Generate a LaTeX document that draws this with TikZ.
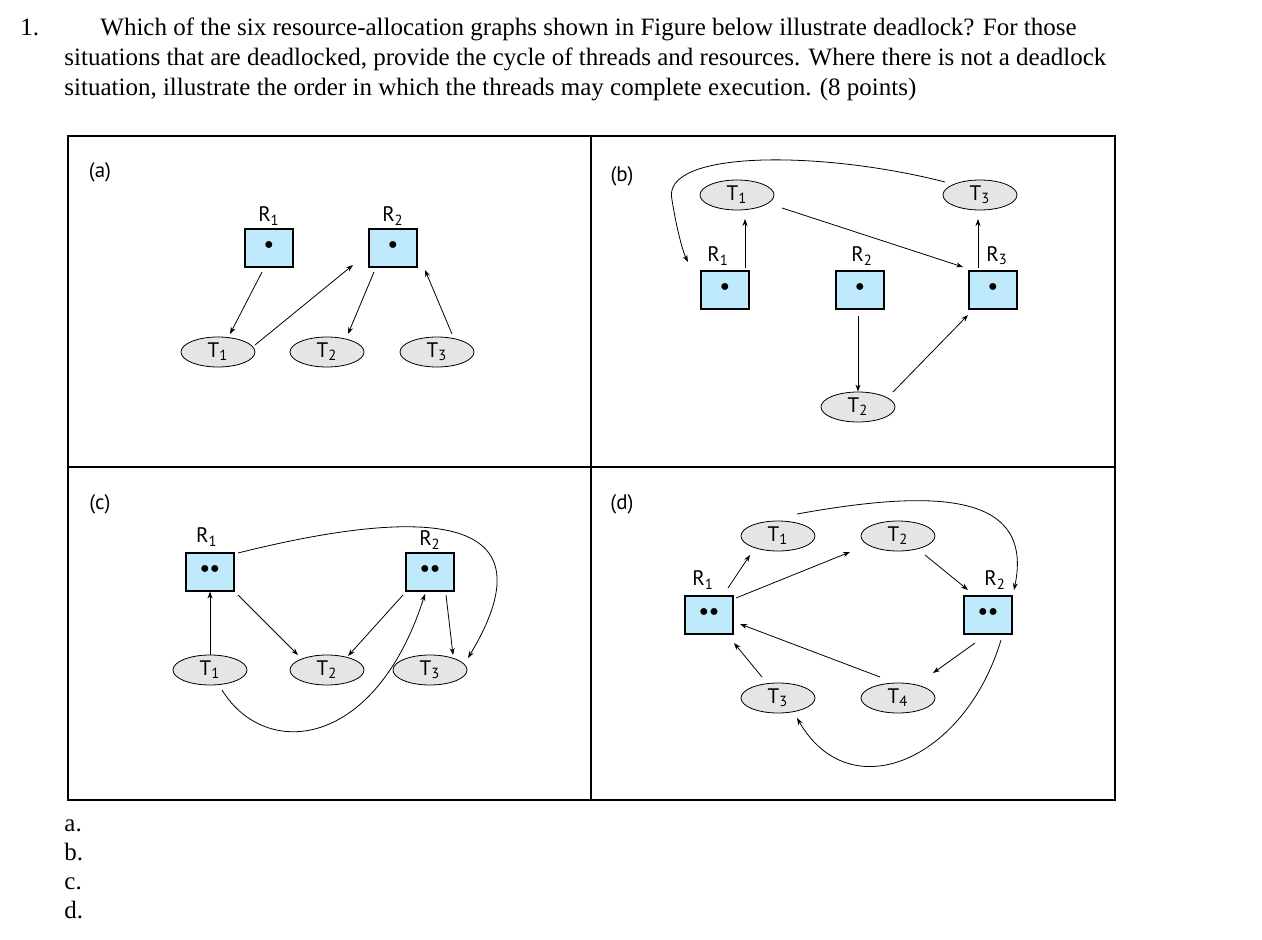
\documentclass[tikz,border=0pt]{standalone}
\usepackage{fontspec}
\setmainfont{Liberation Serif}
\newfontfamily\dsans{PT Sans}
\usetikzlibrary{arrows.meta,shapes.geometric}
\begin{document}
\begin{tikzpicture}[x=0.5pt,y=-0.5pt,
 res/.style={draw,fill=cyan!25,minimum width=24pt,minimum height=19pt,inner sep=0pt,line width=0.6pt,font=\Large},
 thr/.style={draw,ellipse,fill=gray!20,minimum width=37pt,minimum height=15pt,inner sep=0pt,font=\dsans\fontsize{10.5}{11}\selectfont},
 lab/.style={font=\dsans\fontsize{10.5}{11}\selectfont,inner sep=0pt},
 ed/.style={-{Stealth[length=3.5pt,width=2.5pt]},line width=0.4pt},
 tt/.style={anchor=base west,inner sep=0pt,font=\fontsize{12.5}{14}\selectfont}]
\useasboundingbox[fill=white] (0,0) rectangle (1262,940);
\node[tt] at (20,36) {1.};
\node[tt] at (100,36) {Which of the six resource-allocation graphs shown in Figure below illustrate deadlock? For those};
\node[tt] at (64,66) {situations that are deadlocked, provide the cycle of threads and resources. Where there is not a deadlock};
\node[tt] at (64,96) {situation, illustrate the order in which the threads may complete execution. (8 points)};
\draw[line width=0.6pt] (68,136) rectangle (1115,800);
\draw[line width=0.6pt] (591,136) -- (591,800) (68,467) -- (1115,467);
\foreach \l/\y in {a./831,b./860,c./889,d./918} \node[tt] at (64,\y) {\l};
% (a)
\node[lab] at (100,172) {(a)};
\node[res] (aR1) at (269,248) {\textbullet}; \node[lab] at (269,216) {R\textsubscript{1}};
\node[res] (aR2) at (393,248) {\textbullet}; \node[lab] at (393,216) {R\textsubscript{2}};
\node[thr] (aT1) at (218,352) {T\textsubscript{1}};
\node[thr] (aT2) at (327,352) {T\textsubscript{2}};
\node[thr] (aT3) at (437,352) {T\textsubscript{3}};
\draw[ed] (262,272) -- (230,334);
\draw[ed] (255,345) -- (353,265);
\draw[ed] (374,272) -- (348,334);
\draw[ed] (452,334) -- (425,270);
% (b)
\node[lab] at (622,176) {(b)};
\node[thr] (bT1) at (737,195) {T\textsubscript{1}};
\node[thr] (bT3) at (980,195) {T\textsubscript{3}};
\node[res] (bR1) at (725,290) {\textbullet}; \node[lab] at (718,256) {R\textsubscript{1}};
\node[res] (bR2) at (860,290) {\textbullet}; \node[lab] at (862,256) {R\textsubscript{2}};
\node[res] (bR3) at (993,290) {\textbullet}; \node[lab] at (997,256) {R\textsubscript{3}};
\node[thr] (bT2) at (858,407) {T\textsubscript{2}};
\draw[ed] (745,268) -- (745,219);
\draw[ed] (782,208) -- (963,267);
\draw[ed] (858,316) -- (bT2.north);
\draw[ed] (893,392) -- (968,315);
\draw[ed] (978,268) -- (978,219);
\draw[ed] (945,182) .. controls (820,150) and (660,150) .. (672,200) .. controls (676,225) and (682,250) .. (688,262);
% (c)
\node[lab] at (100,504) {(c)};
\node[res] (cR1) at (210,572) {\textbullet\textbullet}; \node[lab] at (207,537) {R\textsubscript{1}};
\node[res] (cR2) at (430,572) {\textbullet\textbullet}; \node[lab] at (430,540) {R\textsubscript{2}};
\node[thr] (cT1) at (210,670) {T\textsubscript{1}};
\node[thr] (cT2) at (327,670) {T\textsubscript{2}};
\node[thr] (cT3) at (430,670) {T\textsubscript{3}};
\draw[ed] (cT1.north) -- (cR1.south);
\draw[ed] (238,595) -- (298,655);
\draw[ed] (403,595) -- (348,656);
\draw[ed] (446,595) -- (453,655);
\draw[ed] (238,553) .. controls (410,510) and (560,505) .. (468,658);
\draw[ed] (222,690) .. controls (265,760) and (375,750) .. (425,594);
% (d)
\node[lab] at (622,504) {(d)};
\node[res] (dR1) at (709,615) {\textbullet\textbullet}; \node[lab] at (703,580) {R\textsubscript{1}};
\node[res] (dR2) at (988,615) {\textbullet\textbullet}; \node[lab] at (995,580) {R\textsubscript{2}};
\node[thr] (dT1) at (778,536) {T\textsubscript{1}};
\node[thr] (dT2) at (898,536) {T\textsubscript{2}};
\node[thr] (dT3) at (778,698) {T\textsubscript{3}};
\node[thr] (dT4) at (898,698) {T\textsubscript{4}};
\draw[ed] (728,588) -- (750,555);
\draw[ed] (736,598) -- (850,552);
\draw[ed] (925,555) -- (968,590);
\draw[ed] (797,514) .. controls (930,490) and (1035,490) .. (1014,590);
\draw[ed] (975,643) -- (933,673);
\draw[ed] (880,677) -- (740,624);
\draw[ed] (762,677) -- (734,643);
\draw[ed] (1001,640) .. controls (965,760) and (850,810) .. (797,718);
\end{tikzpicture}
\end{document}
